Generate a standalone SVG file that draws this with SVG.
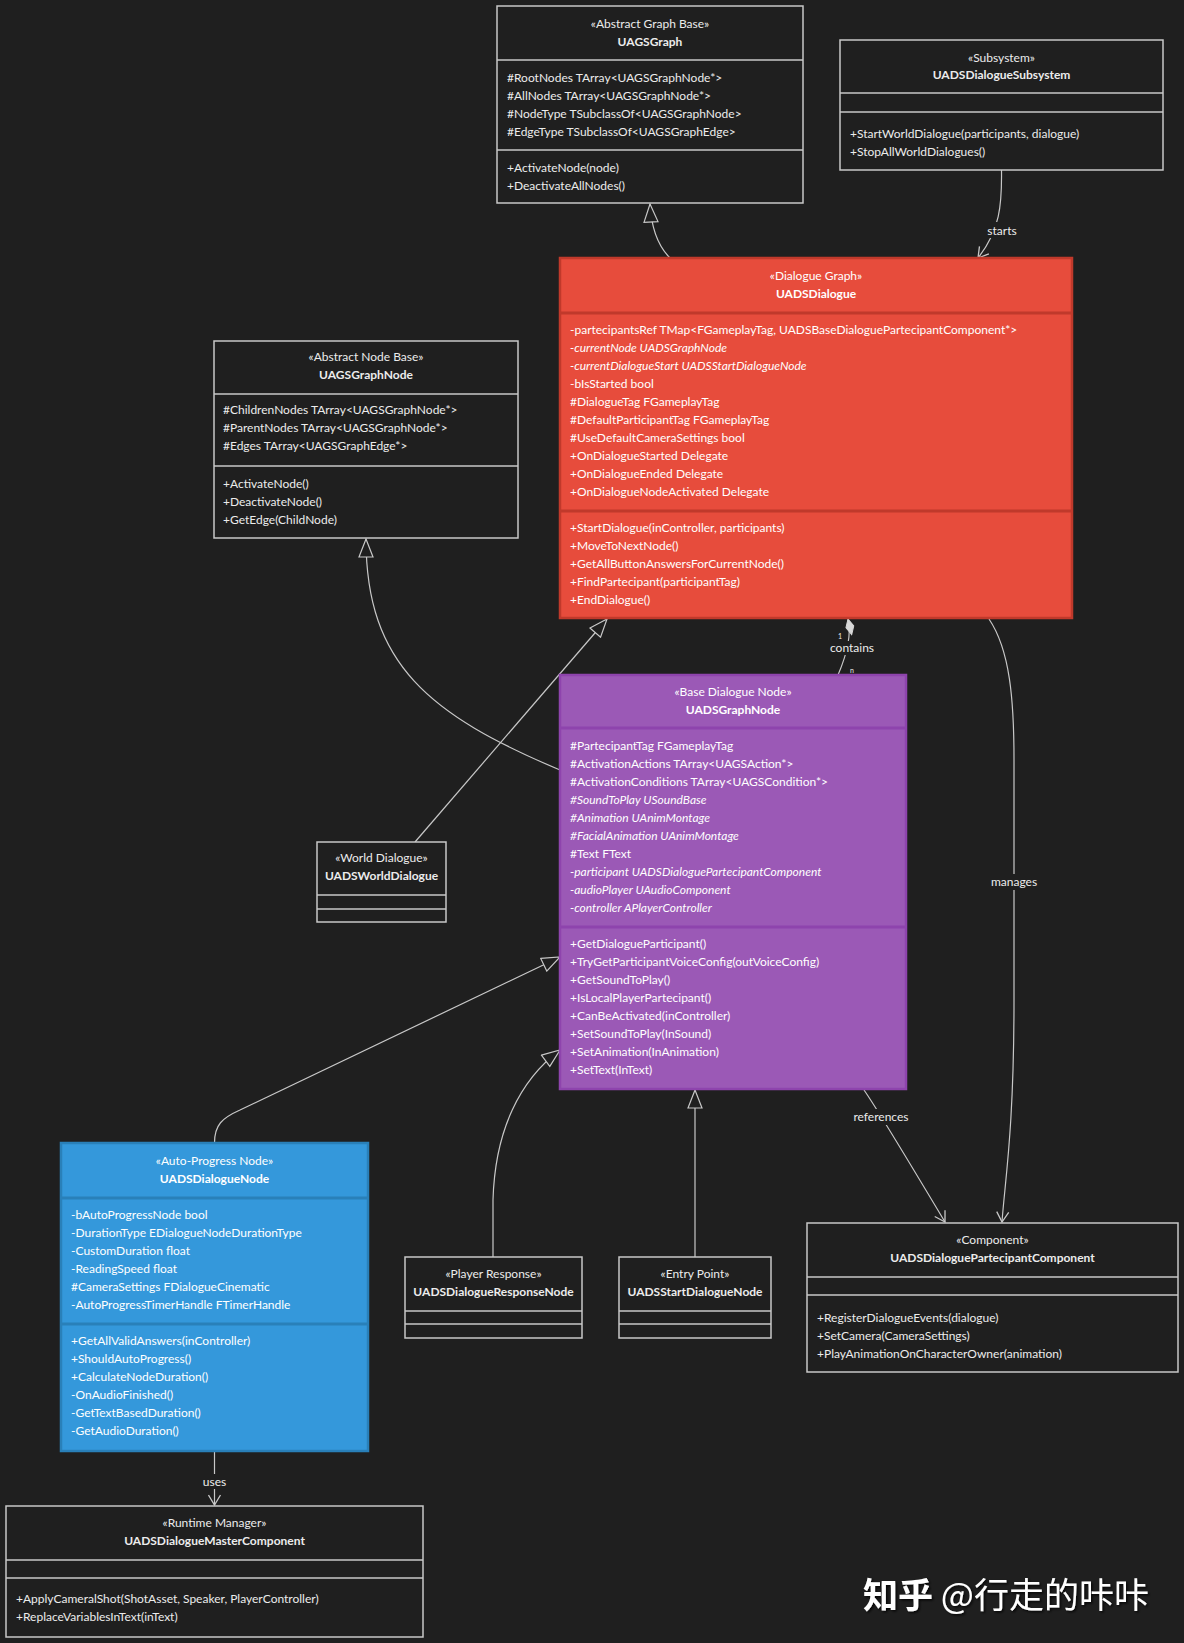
<svg xmlns="http://www.w3.org/2000/svg" width="1184" height="1643" viewBox="0 0 1184 1643">
<style>
.bg{fill:#1f1f1f}
.dk{fill:#1f1f1f;stroke:#c8c8c8;stroke-width:1.5}
.dl{stroke:#c8c8c8;stroke-width:1.5}
.rd{fill:#e74c3c;stroke:#c0392b;stroke-width:2.5}
.rl{stroke:#c0392b;stroke-width:3}
.pu{fill:#9b59b6;stroke:#8e44ad;stroke-width:2.5}
.pl{stroke:#8e44ad;stroke-width:3}
.bl{fill:#3498db;stroke:#2980b9;stroke-width:2.5}
.bll{stroke:#2980b9;stroke-width:3}
text{font-family:Lato,"Open Sans","Liberation Sans",sans-serif;font-size:12px;fill:#ececec}
.w{fill:#ffffff}
.c{text-anchor:middle}
.b{font-weight:bold}
.i{font-style:italic}
.e{fill:none;stroke:#c8c8c8;stroke-width:1.2}
.lb{fill:#1f1f1f}
.sm{font-size:7px}
</style>
<defs>
<marker id="tri" viewBox="0 0 20 16" refX="19" refY="8" markerWidth="20" markerHeight="16" markerUnits="userSpaceOnUse" orient="auto">
<path d="M1,1 L19,8 L1,15 z" fill="#1f1f1f" stroke="#c8c8c8" stroke-width="1.2"/>
</marker>
<marker id="open" viewBox="0 0 12 14" refX="11" refY="7" markerWidth="12" markerHeight="14" markerUnits="userSpaceOnUse" orient="auto">
<path d="M1,1 L11,7 L1,13" fill="none" stroke="#c8c8c8" stroke-width="1.3"/>
</marker>
<marker id="dia" viewBox="0 0 18 10" refX="1" refY="5" markerWidth="18" markerHeight="10" markerUnits="userSpaceOnUse" orient="auto">
<path d="M1,5 L9,1 L17,5 L9,9 z" fill="#d8d8d8" stroke="#d8d8d8" stroke-width="1"/>
</marker>
<filter id="sh" x="-10%" y="-10%" width="120%" height="130%">
<feDropShadow dx="1.5" dy="1.5" stdDeviation="1" flood-color="#000" flood-opacity="0.8"/>
</filter>
</defs>
<rect class="bg" x="0" y="0" width="1184" height="1643"/>

<g id="connectors">
<path class="e" d="M670,258 Q652,240 650,204" marker-end="url(#tri)"/>
<path class="e" d="M1001.5,170 C1002,205 1000,230 978,258" marker-end="url(#open)"/>
<path class="e" d="M560,770 C430,715 366,665 366,539" marker-end="url(#tri)"/>
<path class="e" d="M415,842 L607,619" marker-end="url(#tri)"/>
<path class="e" d="M848,619 Q853,640 838,675" marker-start="url(#dia)"/>
<path class="e" d="M989,619 C1010,650 1014,700 1014,760 L1014,1000 C1014,1130 1005,1180 1002,1222" marker-end="url(#open)"/>
<path class="e" d="M864,1090 Q878,1110 945,1222" marker-end="url(#open)"/>
<path class="e" d="M214.5,1143 C214.5,1125 222,1118 240,1110 L560,957" marker-end="url(#tri)"/>
<path class="e" d="M493,1257 L493,1200 C495,1130 520,1080 560,1050" marker-end="url(#tri)"/>
<path class="e" d="M695,1257 L695,1090" marker-end="url(#tri)"/>
<path class="e" d="M214.5,1452 L214.5,1505" marker-end="url(#open)"/>
<rect class="lb" x="984" y="222" width="36" height="16"/>
<text class="c" x="1002" y="235">starts</text>
<rect class="lb" x="827" y="641" width="50" height="14"/>
<text class="c" x="852" y="652">contains</text>
<text class="c sm" x="840" y="639">1</text>
<text class="c sm" x="852" y="673">n</text>
<rect class="lb" x="989" y="874" width="50" height="16"/>
<text class="c" x="1014" y="886">manages</text>
<rect class="lb" x="850" y="1109" width="62" height="16"/>
<text class="c" x="881" y="1121">references</text>
<rect class="lb" x="199" y="1474" width="31" height="15"/>
<text class="c" x="214.5" y="1486">uses</text>
</g>

<g id="UAGSGraph">
<rect class="dk" x="497" y="6" width="306" height="197"/>
<line class="dl" x1="497" y1="60" x2="803" y2="60"/>
<line class="dl" x1="497" y1="150" x2="803" y2="150"/>
<text class="c" x="650" y="28">«Abstract Graph Base»</text>
<text class="c b" x="650" y="46">UAGSGraph</text>
<text x="507" y="82">#RootNodes TArray&lt;UAGSGraphNode*&gt;</text>
<text x="507" y="100">#AllNodes TArray&lt;UAGSGraphNode*&gt;</text>
<text x="507" y="118">#NodeType TSubclassOf&lt;UAGSGraphNode&gt;</text>
<text x="507" y="136">#EdgeType TSubclassOf&lt;UAGSGraphEdge&gt;</text>
<text x="507" y="172">+ActivateNode(node)</text>
<text x="507" y="190">+DeactivateAllNodes()</text>
</g>

<g id="UADSDialogueSubsystem">
<rect class="dk" x="840" y="40" width="323" height="130"/>
<line class="dl" x1="840" y1="93" x2="1163" y2="93"/>
<line class="dl" x1="840" y1="112" x2="1163" y2="112"/>
<text class="c" x="1001.5" y="62">«Subsystem»</text>
<text class="c b" x="1001.5" y="79">UADSDialogueSubsystem</text>
<text x="850" y="138">+StartWorldDialogue(participants, dialogue)</text>
<text x="850" y="156">+StopAllWorldDialogues()</text>
</g>

<g id="UADSDialogue">
<rect class="rd" x="560" y="258" width="512" height="360"/>
<line class="rl" x1="561" y1="313" x2="1071" y2="313"/>
<line class="rl" x1="561" y1="511" x2="1071" y2="511"/>
<text class="c w" x="816" y="280">«Dialogue Graph»</text>
<text class="c b w" x="816" y="298">UADSDialogue</text>
<text class="w" x="570" y="334">-partecipantsRef TMap&lt;FGameplayTag, UADSBaseDialoguePartecipantComponent*&gt;</text>
<text class="w i" x="570" y="352">-currentNode UADSGraphNode</text>
<text class="w i" x="570" y="370">-currentDialogueStart UADSStartDialogueNode</text>
<text class="w" x="570" y="388">-bIsStarted bool</text>
<text class="w" x="570" y="406">#DialogueTag FGameplayTag</text>
<text class="w" x="570" y="424">#DefaultParticipantTag FGameplayTag</text>
<text class="w" x="570" y="442">#UseDefaultCameraSettings bool</text>
<text class="w" x="570" y="460">+OnDialogueStarted Delegate</text>
<text class="w" x="570" y="478">+OnDialogueEnded Delegate</text>
<text class="w" x="570" y="496">+OnDialogueNodeActivated Delegate</text>
<text class="w" x="570" y="532">+StartDialogue(inController, participants)</text>
<text class="w" x="570" y="550">+MoveToNextNode()</text>
<text class="w" x="570" y="568">+GetAllButtonAnswersForCurrentNode()</text>
<text class="w" x="570" y="586">+FindPartecipant(participantTag)</text>
<text class="w" x="570" y="604">+EndDialogue()</text>
</g>

<g id="UAGSGraphNode">
<rect class="dk" x="214" y="341" width="304" height="197"/>
<line class="dl" x1="214" y1="394" x2="518" y2="394"/>
<line class="dl" x1="214" y1="466" x2="518" y2="466"/>
<text class="c" x="366" y="361">«Abstract Node Base»</text>
<text class="c b" x="366" y="379">UAGSGraphNode</text>
<text x="223" y="414">#ChildrenNodes TArray&lt;UAGSGraphNode*&gt;</text>
<text x="223" y="432">#ParentNodes TArray&lt;UAGSGraphNode*&gt;</text>
<text x="223" y="450">#Edges TArray&lt;UAGSGraphEdge*&gt;</text>
<text x="223" y="488">+ActivateNode()</text>
<text x="223" y="506">+DeactivateNode()</text>
<text x="223" y="524">+GetEdge(ChildNode)</text>
</g>

<g id="UADSGraphNode">
<rect class="pu" x="560" y="675" width="346" height="414"/>
<line class="pl" x1="561" y1="728" x2="905" y2="728"/>
<line class="pl" x1="561" y1="927" x2="905" y2="927"/>
<text class="c w" x="733" y="696">«Base Dialogue Node»</text>
<text class="c b w" x="733" y="714">UADSGraphNode</text>
<text class="w" x="570" y="750">#PartecipantTag FGameplayTag</text>
<text class="w" x="570" y="768">#ActivationActions TArray&lt;UAGSAction*&gt;</text>
<text class="w" x="570" y="786">#ActivationConditions TArray&lt;UAGSCondition*&gt;</text>
<text class="w i" x="570" y="804">#SoundToPlay USoundBase</text>
<text class="w i" x="570" y="822">#Animation UAnimMontage</text>
<text class="w i" x="570" y="840">#FacialAnimation UAnimMontage</text>
<text class="w" x="570" y="858">#Text FText</text>
<text class="w i" x="570" y="876">-participant UADSDialoguePartecipantComponent</text>
<text class="w i" x="570" y="894">-audioPlayer UAudioComponent</text>
<text class="w i" x="570" y="912">-controller APlayerController</text>
<text class="w" x="570" y="948">+GetDialogueParticipant()</text>
<text class="w" x="570" y="966">+TryGetParticipantVoiceConfig(outVoiceConfig)</text>
<text class="w" x="570" y="984">+GetSoundToPlay()</text>
<text class="w" x="570" y="1002">+IsLocalPlayerPartecipant()</text>
<text class="w" x="570" y="1020">+CanBeActivated(inController)</text>
<text class="w" x="570" y="1038">+SetSoundToPlay(InSound)</text>
<text class="w" x="570" y="1056">+SetAnimation(InAnimation)</text>
<text class="w" x="570" y="1074">+SetText(InText)</text>
</g>

<g id="UADSWorldDialogue">
<rect class="dk" x="317" y="842" width="129" height="80"/>
<line class="dl" x1="317" y1="895" x2="446" y2="895"/>
<line class="dl" x1="317" y1="909" x2="446" y2="909"/>
<text class="c" x="381.5" y="862">«World Dialogue»</text>
<text class="c b" x="381.5" y="880">UADSWorldDialogue</text>
</g>

<g id="UADSDialogueNode">
<rect class="bl" x="61" y="1143" width="307" height="308"/>
<line class="bll" x1="62" y1="1198" x2="367" y2="1198"/>
<line class="bll" x1="62" y1="1324" x2="367" y2="1324"/>
<text class="c w" x="214.5" y="1165">«Auto-Progress Node»</text>
<text class="c b w" x="214.5" y="1183">UADSDialogueNode</text>
<text class="w" x="71" y="1219">-bAutoProgressNode bool</text>
<text class="w" x="71" y="1237">-DurationType EDialogueNodeDurationType</text>
<text class="w" x="71" y="1255">-CustomDuration float</text>
<text class="w" x="71" y="1273">-ReadingSpeed float</text>
<text class="w" x="71" y="1291">#CameraSettings FDialogueCinematic</text>
<text class="w" x="71" y="1309">-AutoProgressTimerHandle FTimerHandle</text>
<text class="w" x="71" y="1345">+GetAllValidAnswers(inController)</text>
<text class="w" x="71" y="1363">+ShouldAutoProgress()</text>
<text class="w" x="71" y="1381">+CalculateNodeDuration()</text>
<text class="w" x="71" y="1399">-OnAudioFinished()</text>
<text class="w" x="71" y="1417">-GetTextBasedDuration()</text>
<text class="w" x="71" y="1435">-GetAudioDuration()</text>
</g>

<g id="UADSDialogueMasterComponent">
<rect class="dk" x="6" y="1506" width="417" height="131"/>
<line class="dl" x1="6" y1="1560" x2="423" y2="1560"/>
<line class="dl" x1="6" y1="1578" x2="423" y2="1578"/>
<text class="c" x="214.5" y="1527">«Runtime Manager»</text>
<text class="c b" x="214.5" y="1545">UADSDialogueMasterComponent</text>
<text x="16" y="1603">+ApplyCameralShot(ShotAsset, Speaker, PlayerController)</text>
<text x="16" y="1621">+ReplaceVariablesInText(inText)</text>
</g>

<g id="UADSDialogueResponseNode">
<rect class="dk" x="405" y="1257" width="177" height="81"/>
<line class="dl" x1="405" y1="1311" x2="582" y2="1311"/>
<line class="dl" x1="405" y1="1324" x2="582" y2="1324"/>
<text class="c" x="493.5" y="1278">«Player Response»</text>
<text class="c b" x="493.5" y="1296">UADSDialogueResponseNode</text>
</g>

<g id="UADSStartDialogueNode">
<rect class="dk" x="619" y="1257" width="152" height="81"/>
<line class="dl" x1="619" y1="1311" x2="771" y2="1311"/>
<line class="dl" x1="619" y1="1324" x2="771" y2="1324"/>
<text class="c" x="695" y="1278">«Entry Point»</text>
<text class="c b" x="695" y="1296">UADSStartDialogueNode</text>
</g>

<g id="UADSDialoguePartecipantComponent">
<rect class="dk" x="807" y="1223" width="371" height="149"/>
<line class="dl" x1="807" y1="1277" x2="1178" y2="1277"/>
<line class="dl" x1="807" y1="1295" x2="1178" y2="1295"/>
<text class="c" x="992.5" y="1244">«Component»</text>
<text class="c b" x="992.5" y="1262">UADSDialoguePartecipantComponent</text>
<text x="817" y="1322">+RegisterDialogueEvents(dialogue)</text>
<text x="817" y="1340">+SetCamera(CameraSettings)</text>
<text x="817" y="1358">+PlayAnimationOnCharacterOwner(animation)</text>
</g>

<text x="863" y="1608" filter="url(#sh)" style="font-family:'Noto Sans CJK SC',sans-serif;font-size:35px;fill:#ffffff"><tspan font-weight="bold">知乎</tspan> @行走的咔咔</text>
</svg>
